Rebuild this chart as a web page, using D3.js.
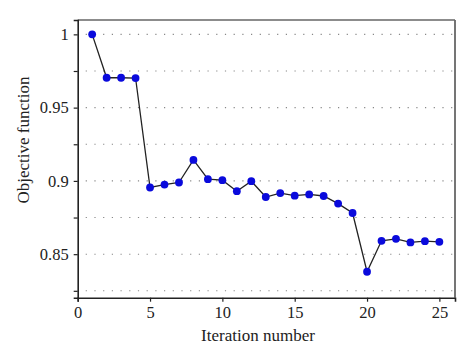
<!DOCTYPE html>
<html>
<head>
<meta charset="utf-8">
<script src="https://cdn.jsdelivr.net/npm/d3@7"></script>
<style>
  html, body { margin: 0; padding: 0; background: #fff; }
  svg { display: block; }
  text { font-family: "Liberation Serif", "DejaVu Serif", serif; fill: #222; }
</style>
</head>
<body>
<svg id="chart" width="474" height="361"></svg>
<script>
const iterations = [1,2,3,4,5,6,7,8,9,10,11,12,13,14,15,16,17,18,19,20,21,22,23,24,25];
const objective = [1.0, 0.9704, 0.9704, 0.9702, 0.8955, 0.8975, 0.8989, 0.9143, 0.9012, 0.9005,
                   0.893, 0.8998, 0.889, 0.8917, 0.8899, 0.8908, 0.8897, 0.8845, 0.8781, 0.838,
                   0.8591, 0.8605, 0.858, 0.8589, 0.8584];
const xTicks = [0, 5, 10, 15, 20, 25];
const yMajorTicks = [0.85, 0.9, 0.95, 1];
const yGridTicks = [0.825, 0.85, 0.875, 0.9, 0.925, 0.95, 0.975, 1.0];
const xLabel = "Iteration number";
const yLabel = "Objective function";

const svg = d3.select("#chart");
const L = 77.7, R = 455, T = 20, B = 297.7;
const x = d3.scaleLinear().domain([0, 26.08]).range([L, R]);
const y = d3.scaleLinear().domain([0.8203, 1.0098]).range([B, T]);

// grid
svg.append("g").selectAll("line").data(yGridTicks).join("line")
  .attr("x1", L + 8).attr("x2", R - 2)
  .attr("y1", d => y(d)).attr("y2", d => y(d))
  .attr("stroke", "#888").attr("stroke-width", 1.1)
  .attr("stroke-dasharray", "1.2,7.5");

// frame top/right
svg.append("line").attr("x1", L).attr("x2", R).attr("y1", T).attr("y2", T)
  .attr("stroke", "#666").attr("stroke-width", 1.6);
svg.append("line").attr("x1", R).attr("x2", R).attr("y1", T).attr("y2", B)
  .attr("stroke", "#666").attr("stroke-width", 1.8);

// axes
const fmt = d => d3.format("")(+d.toFixed(3));
const xAxis = svg.append("g").attr("transform", `translate(0,${B})`)
  .call(d3.axisBottom(x).tickValues(xTicks).tickSize(4).tickPadding(5).tickFormat(d => d));
const yAxis = svg.append("g").attr("transform", `translate(${L},0)`)
  .call(d3.axisLeft(y).tickValues(yGridTicks).tickSize(4).tickPadding(5)
    .tickFormat(d => yMajorTicks.some(v => Math.abs(v - d) < 1e-9) ? fmt(d) : ""));
[xAxis, yAxis].forEach(g => {
  g.select(".domain").attr("stroke", "#222").attr("stroke-width", 1.6);
  g.selectAll(".tick line").attr("stroke", "#222").attr("stroke-width", 1.2);
  g.selectAll(".tick text").attr("font-family", "Liberation Serif, DejaVu Serif, serif")
    .attr("font-size", 16.5).attr("fill", "#1a1a1a");
});

// line
const line = d3.line().x((d, i) => x(iterations[i])).y(d => y(d));
svg.append("path").datum(objective).attr("d", line)
  .attr("fill", "none").attr("stroke", "#222").attr("stroke-width", 1.3);

svg.append("g").selectAll("circle").data(objective).join("circle")
  .attr("cx", (d, i) => x(iterations[i])).attr("cy", d => y(d))
  .attr("r", 3.9).attr("fill", "#0a0adc");

// labels
svg.append("text").attr("x", 258).attr("y", 341).attr("text-anchor", "middle")
  .attr("font-size", 17).attr("fill", "#1a1a1a").text(xLabel);
svg.append("text").attr("transform", "translate(29,140) rotate(-90)")
  .attr("text-anchor", "middle").attr("font-size", 17).attr("fill", "#1a1a1a").text(yLabel);
</script>
</body>
</html>
